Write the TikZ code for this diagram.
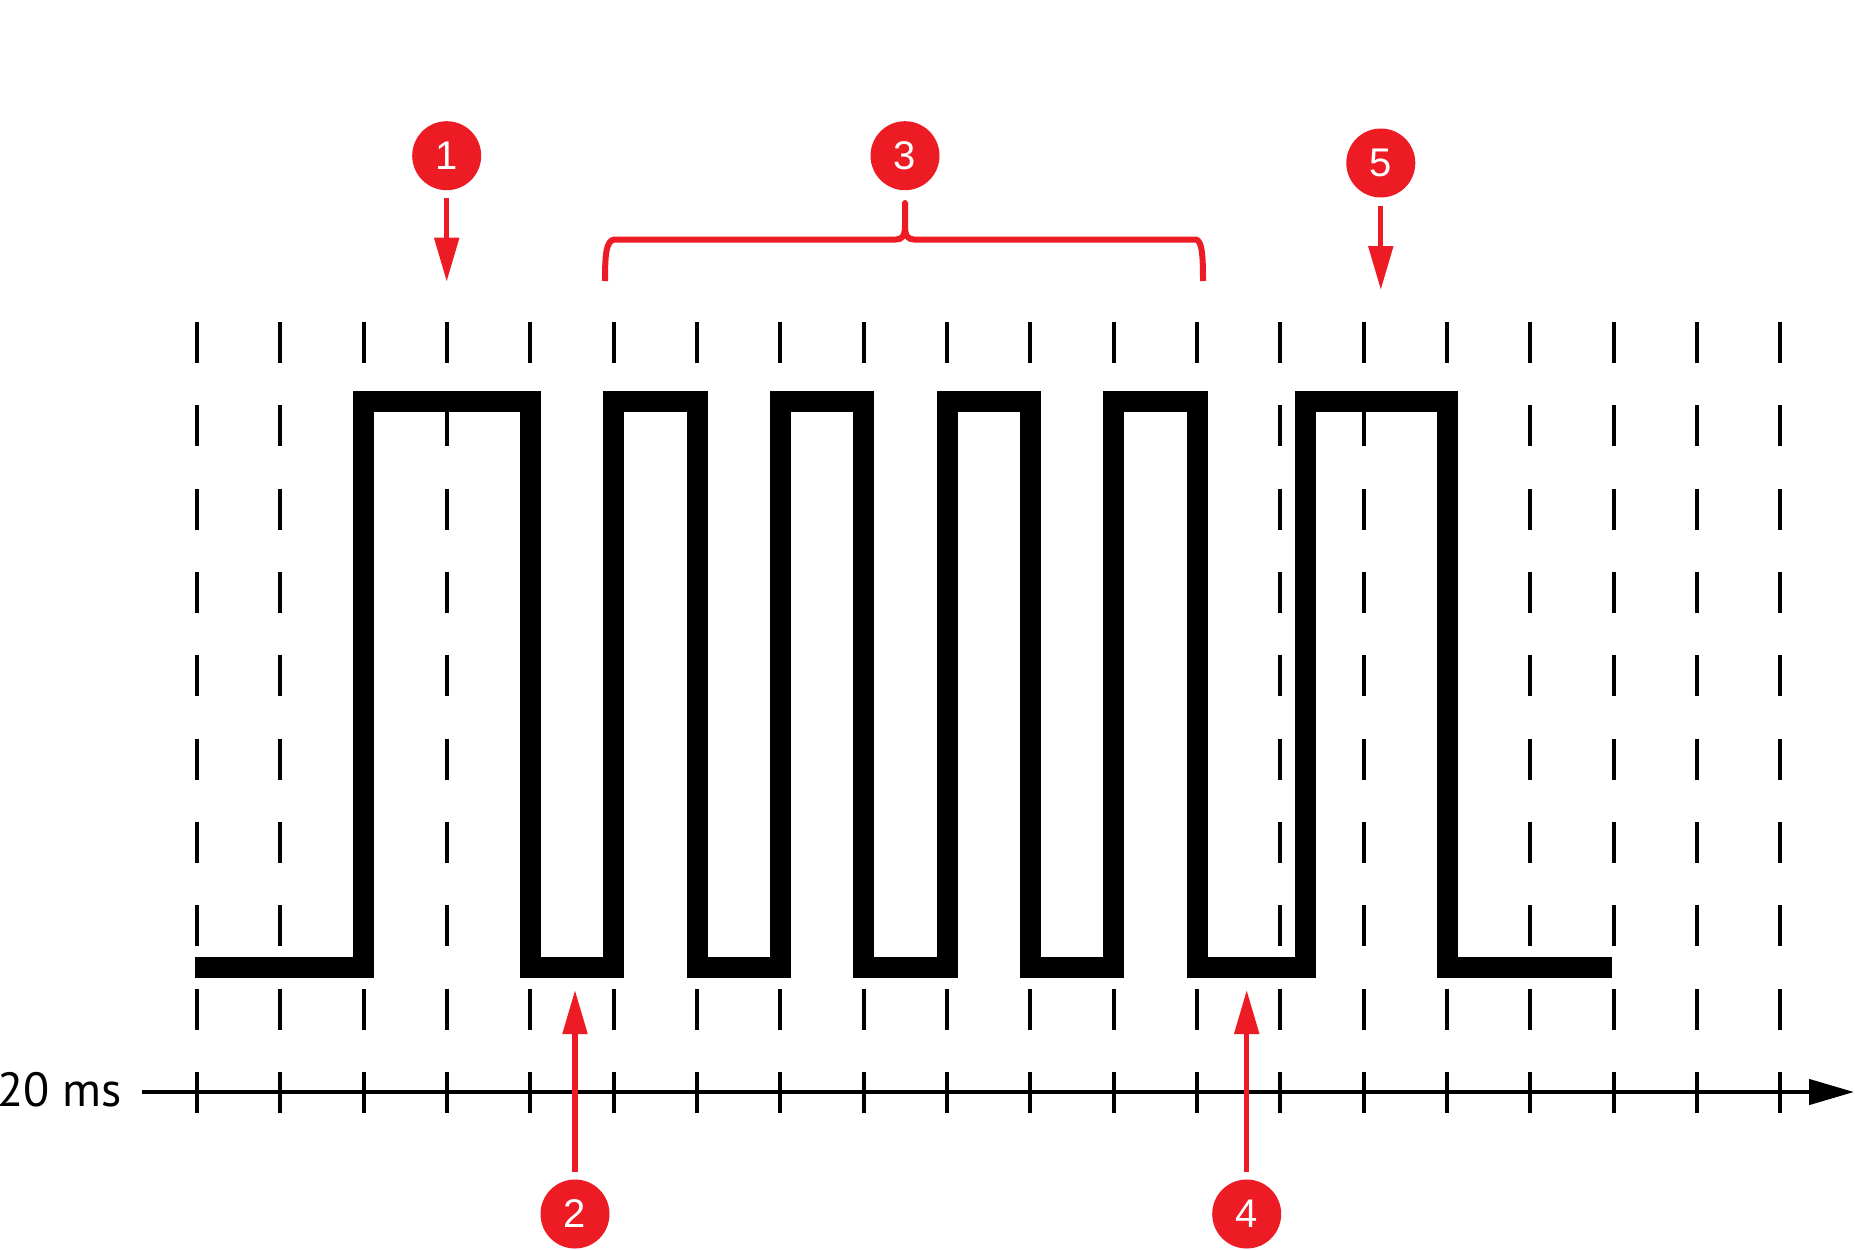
\documentclass[tikz,border=0pt]{standalone}
\usepackage{fontspec}
\setmainfont{Liberation Sans}
\newfontfamily\labelfont{PT Sans}
\usetikzlibrary{arrows.meta}
\definecolor{mred}{RGB}{237,28,36}
\begin{document}
\begin{tikzpicture}[x=1pt,y=-1pt,
  badge/.style={circle, fill=mred, text=white, minimum size=69pt, inner sep=0pt, font=\fontsize{40}{40}\selectfont},
  redarrow/.style={draw=mred, line width=5.3pt, -{Triangle[length=44pt,width=24pt]}},
  gridline/.style={line width=4pt, dash pattern=on 41pt off 42.333pt},
  signal/.style={line width=21pt, line join=miter, line cap=butt},
  bracket/.style={draw=mred, line width=6pt, line join=round},
  axisline/.style={line width=4.5pt, -{Triangle[length=45pt,width=25pt]}}]
\useasboundingbox (0,0) rectangle (1855,1250);
% grid
\foreach \k in {0,...,19} \draw[gridline] ({197+83.333*\k},322) -- ({197+83.333*\k},1113);
% signal
\def\hi{401.3}\def\lo{967.5}
\draw[signal] (195,\lo) -- (363.7,\lo) -- (363.7,\hi) -- (530.3,\hi) -- (530.3,\lo)
  -- (613.7,\lo) -- (613.7,\hi) -- (697,\hi) -- (697,\lo)
  -- (780.3,\lo) -- (780.3,\hi) -- (863.7,\hi) -- (863.7,\lo)
  -- (947,\lo) -- (947,\hi) -- (1030.3,\hi) -- (1030.3,\lo)
  -- (1113.7,\lo) -- (1113.7,\hi) -- (1197,\hi) -- (1197,\lo)
  -- (1305,\lo) -- (1305,\hi) -- (1447,\hi) -- (1447,\lo) -- (1612,\lo);
% axis
\node[font=\labelfont\fontsize{48}{48}\selectfont, anchor=base east, inner sep=0pt] (unit) at (122,1106) {20 ms};
\coordinate (axs) at (142,1092);
\coordinate (axe) at (1854,1092);
\draw[axisline] (axs) -- (axe);
% badges
\node[badge] (n1) at (446.7,155.7) {1};
\node[badge] (n3) at (905,155.7) {3};
\node[badge] (n5) at (1380.8,163) {5};
\node[badge] (n2) at (575,1214) {2};
\node[badge] (n4) at (1246.7,1214) {4};
% arrows
\coordinate (t1) at (446.7,281.7);
\coordinate (t5) at (1380.8,290);
\coordinate (t2) at (575,990);
\coordinate (t4) at (1246.7,990);
\draw[redarrow, shorten <=7.5pt] (n1) -- (t1);
\draw[redarrow, shorten <=8.5pt] (n5) -- (t5);
\draw[redarrow, shorten <=7pt] (n2) -- (t2);
\draw[redarrow, shorten <=7pt] (n4) -- (t4);
% bracket
\coordinate (bl) at (605,281);
\coordinate (br) at (1203,281);
\coordinate (bt) at (905,203);
\draw[bracket] (bl) .. controls (605,255) and (606,241) .. (614,239.5)
  -- (896,239.5) .. controls (902,239.5) and (905,236) .. (905,226) -- (bt)
  -- (905,226) .. controls (905,236) and (908,239.5) .. (914,239.5)
  -- (1196,239.5) .. controls (1202,241) and (1203,255) .. (br);
\end{tikzpicture}
\end{document}
